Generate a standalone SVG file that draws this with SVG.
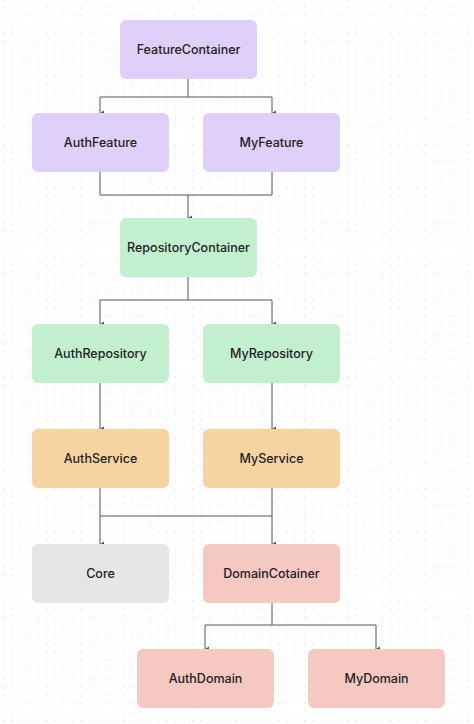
<svg xmlns="http://www.w3.org/2000/svg" width="474" height="724" viewBox="0 0 474 724">
  <style>
    .node text { font-family: Inter, "Noto Sans", "Liberation Sans", sans-serif; font-size: 12.5px; font-weight: 500; fill: #222222; text-anchor: middle; dominant-baseline: central; }
    .purple { fill: #DFD0F9; }
    .green { fill: #C2F0CF; }
    .orange { fill: #F5D4A2; }
    .grey { fill: #E6E6E6; }
    .pink { fill: #F6C8C2; }
    .conn path { fill: none; stroke: #555555; stroke-width: 1; }
  </style>
  <defs>
    <pattern id="dots" x="3" y="6.5" width="8.6" height="8.6" patternUnits="userSpaceOnUse">
      <circle cx="0.6" cy="0.6" r="0.65" fill="#d9d9d9"/>
    </pattern>
    <marker id="arr" viewBox="0 0 6 6" refX="3" refY="5.5" markerWidth="6" markerHeight="6" orient="auto" markerUnits="userSpaceOnUse">
      <path d="M0.5,1.5 L3,5.5 L5.5,1.5 Z" fill="#555555"/>
    </marker>
  </defs>
  <rect width="474" height="724" fill="#ffffff"/>
  <rect width="474" height="724" fill="url(#dots)"/>

  <g class="conn" id="connectors">
    <path d="M188,79 V97 H100 V113" marker-end="url(#arr)"/>
    <path d="M188,97 H272 V113" marker-end="url(#arr)"/>
    <path d="M100,172 V195 H272 V172"/>
    <path d="M188,195 V218" marker-end="url(#arr)"/>
    <path d="M188,277 V300 H100 V324" marker-end="url(#arr)"/>
    <path d="M188,300 H272 V324" marker-end="url(#arr)"/>
    <path d="M100,383 V429" marker-end="url(#arr)"/>
    <path d="M272,383 V429" marker-end="url(#arr)"/>
    <path d="M100,488 V544" marker-end="url(#arr)"/>
    <path d="M272,488 V544" marker-end="url(#arr)"/>
    <path d="M100,516 H272"/>
    <path d="M272,603 V625 H205 V649" marker-end="url(#arr)"/>
    <path d="M272,625 H376 V649" marker-end="url(#arr)"/>
  </g>

  <g class="node" id="FeatureContainer"><rect class="purple" x="120" y="20" width="137" height="59" rx="6"/><text x="188.5" y="49.5">FeatureContainer</text></g>
  <g class="node" id="AuthFeature"><rect class="purple" x="32" y="113" width="137" height="59" rx="6"/><text x="100.5" y="142.5">AuthFeature</text></g>
  <g class="node" id="MyFeature"><rect class="purple" x="203" y="113" width="137" height="59" rx="6"/><text x="271.5" y="142.5">MyFeature</text></g>
  <g class="node" id="RepositoryContainer"><rect class="green" x="120" y="218" width="137" height="59" rx="6"/><text x="188.5" y="247.5">RepositoryContainer</text></g>
  <g class="node" id="AuthRepository"><rect class="green" x="32" y="324" width="137" height="59" rx="6"/><text x="100.5" y="353.5">AuthRepository</text></g>
  <g class="node" id="MyRepository"><rect class="green" x="203" y="324" width="137" height="59" rx="6"/><text x="271.5" y="353.5">MyRepository</text></g>
  <g class="node" id="AuthService"><rect class="orange" x="32" y="429" width="137" height="59" rx="6"/><text x="100.5" y="458.5">AuthService</text></g>
  <g class="node" id="MyService"><rect class="orange" x="203" y="429" width="137" height="59" rx="6"/><text x="271.5" y="458.5">MyService</text></g>
  <g class="node" id="Core"><rect class="grey" x="32" y="544" width="137" height="59" rx="6"/><text x="100.5" y="573.5">Core</text></g>
  <g class="node" id="DomainCotainer"><rect class="pink" x="203" y="544" width="137" height="59" rx="6"/><text x="271.5" y="573.5">DomainCotainer</text></g>
  <g class="node" id="AuthDomain"><rect class="pink" x="137" y="649" width="137" height="59" rx="6"/><text x="205.5" y="678.5">AuthDomain</text></g>
  <g class="node" id="MyDomain"><rect class="pink" x="308" y="649" width="137" height="59" rx="6"/><text x="376.5" y="678.5">MyDomain</text></g>
</svg>
